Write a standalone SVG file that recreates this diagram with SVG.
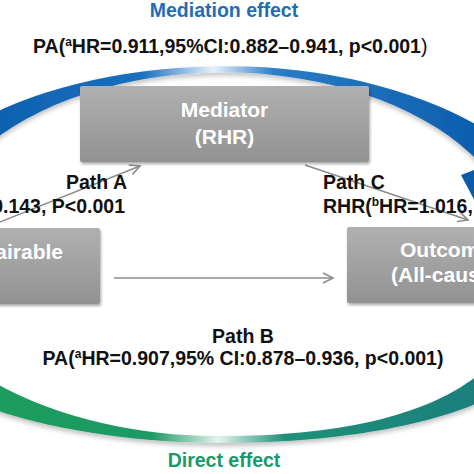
<svg xmlns="http://www.w3.org/2000/svg" width="474" height="474" viewBox="0 0 474 474">
<style>
.box{fill:url(#boxg);filter:url(#sh)}
.bt{font-family:"Liberation Sans",Arial,sans-serif;font-weight:bold;font-size:21px;fill:#ffffff}
.lbl{font-family:"Liberation Sans",Arial,sans-serif;font-weight:bold;font-size:19.5px;fill:#111111}
.conn{stroke:#8c8c8c;stroke-width:1.6;fill:none;marker-end:url(#ah)}
</style>
<defs>
<linearGradient id="boxg" x1="0" y1="0" x2="0" y2="1">
<stop offset="0" stop-color="#b0b0b0"/>
<stop offset="1" stop-color="#929292"/>
</linearGradient>
<linearGradient id="blueg" gradientUnits="userSpaceOnUse" x1="0" y1="0" x2="474" y2="0">
<stop offset="0" stop-color="#0e62b0"/>
<stop offset="0.3" stop-color="#1a6fbf"/>
<stop offset="0.45" stop-color="#e6f0fa"/>
<stop offset="0.58" stop-color="#2a7cc6"/>
<stop offset="1" stop-color="#0d5fae"/>
</linearGradient>
<linearGradient id="greeng" gradientUnits="userSpaceOnUse" x1="0" y1="0" x2="474" y2="0">
<stop offset="0" stop-color="#1c9c5c"/>
<stop offset="0.32" stop-color="#1f9a66"/>
<stop offset="0.46" stop-color="#e4f2ec"/>
<stop offset="0.6" stop-color="#1e9178"/>
<stop offset="1" stop-color="#1a7f7d"/>
</linearGradient>
<filter id="sh" x="-10%" y="-10%" width="125%" height="130%">
<feGaussianBlur in="SourceAlpha" stdDeviation="1.5"/>
<feOffset dx="1" dy="2" result="b"/>
<feComponentTransfer><feFuncA type="linear" slope="0.35"/></feComponentTransfer>
<feMerge><feMergeNode/><feMergeNode in="SourceGraphic"/></feMerge>
</filter>
<filter id="ash" x="-10%" y="-20%" width="120%" height="160%">
<feGaussianBlur in="SourceAlpha" stdDeviation="2.5"/>
<feOffset dx="0" dy="3"/>
<feComponentTransfer><feFuncA type="linear" slope="0.25"/></feComponentTransfer>
<feMerge><feMergeNode/><feMergeNode in="SourceGraphic"/></feMerge>
</filter>
<marker id="ah" markerUnits="userSpaceOnUse" markerWidth="14" markerHeight="14" refX="11" refY="6" orient="auto">
<path d="M1,1 L11,6 L1,11" fill="none" stroke="#8c8c8c" stroke-width="1.6"/>
</marker>
</defs>
<rect width="474" height="474" fill="#ffffff"/>

<g id="arcs">
<path d="M -10,115 A 348 188 0 0 1 490,133 L 480,163 A 296 182 0 0 0 -10,143 Z" fill="url(#blueg)" filter="url(#ash)"/>
<polygon points="461,175 500,160 478,207" fill="#0d5aa8"/>
<path d="M -10,380 C 60,421 150,437 224,436 C 330,436 430,418 484,370 L 484,400 C 430,426 330,443 224,443 C 150,443 60,433 -10,408 Z" fill="url(#greeng)" filter="url(#ash)"/>
</g>

<g id="titles">
<text x="224" y="17" text-anchor="middle" style="font-family:'Liberation Sans',Arial,sans-serif;font-weight:bold;font-size:19.5px;fill:#1f6db5">Mediation effect</text>
<text class="lbl" x="33" y="53">PA(<tspan font-size="12" dy="-7">a</tspan><tspan dy="7">HR=0.911,95%CI:0.882–0.941, p&lt;0.001</tspan><tspan font-weight="normal">)</tspan></text>
<text x="224" y="467" text-anchor="middle" style="font-family:'Liberation Sans',Arial,sans-serif;font-weight:bold;font-size:19.5px;fill:#1a9a68">Direct effect</text>
</g>

<g id="connectors">
<line class="conn" x1="-5" y1="224" x2="140" y2="166"/>
<line class="conn" x1="305" y1="165" x2="468" y2="220"/>
<line class="conn" x1="114" y1="278" x2="333" y2="278"/>
</g>

<g id="mediator">
<rect class="box" x="80" y="86" width="289" height="76" rx="2"/>
<text class="bt" x="224.5" y="117" text-anchor="middle">Mediator</text>
<text class="bt" x="224.5" y="144" text-anchor="middle">(RHR)</text>
</g>

<g id="exposure">
<rect class="box" x="-20" y="228" width="120" height="76" rx="2"/>
<text class="bt" x="63" y="259" text-anchor="end">airable</text>
</g>

<g id="outcome">
<rect class="box" x="347" y="227" width="140" height="76" rx="2"/>
<text class="bt" x="400" y="257">Outcom</text>
<text class="bt" x="391" y="282">(All-caus</text>
</g>

<g id="labels">
<text class="lbl" x="127" y="189" text-anchor="end">Path A</text>
<text class="lbl" x="125" y="213" text-anchor="end">0.143, P&lt;0.001</text>
<text class="lbl" x="323" y="189">Path C</text>
<text class="lbl" x="323" y="213">RHR(<tspan font-size="12" dy="-7">b</tspan><tspan dy="7">HR=1.016,</tspan></text>
<text class="lbl" x="243" y="343" text-anchor="middle">Path B</text>
<text class="lbl" x="243" y="365" text-anchor="middle">PA(<tspan font-size="12" dy="-7">a</tspan><tspan dy="7">HR=0.907,95% CI:0.878–0.936, p&lt;0.001)</tspan></text>
</g>
</svg>
